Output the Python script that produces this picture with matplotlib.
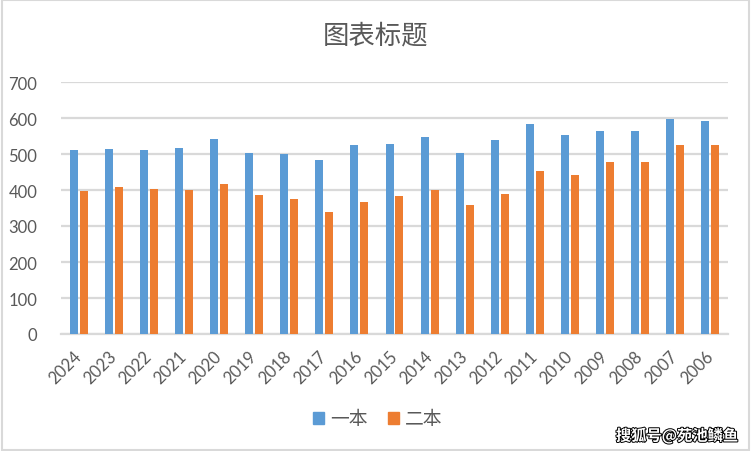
import numpy as np
import matplotlib
matplotlib.use("Agg")
import matplotlib.pyplot as plt
from matplotlib.patches import Patch, Rectangle
import matplotlib.patheffects as pe

years = ["2024", "2023", "2022", "2021", "2020", "2019", "2018", "2017", "2016", "2015",
         "2014", "2013", "2012", "2011", "2010", "2009", "2008", "2007", "2006"]
yiben = [510, 513, 510, 518, 543, 502, 499, 482, 524, 529,
         546, 504, 540, 582, 552, 565, 563, 596, 591]
erben = [396, 407, 404, 399, 418, 385, 374, 340, 368, 382,
         399, 357, 390, 454, 443, 477, 479, 524, 524]
series_names = ["一本", "二本"]
yticks = [0, 100, 200, 300, 400, 500, 600, 700]

blue = "#5B9BD5"
orange = "#ED7D31"
grid = "#D9D9D9"
text = "#595959"
cjk = ["Noto Sans CJK SC", "DejaVu Sans"]

fig = plt.figure(figsize=(7.52, 4.52), dpi=100)
ax = fig.add_axes([61 / 752, 1 - 335 / 452, (728 - 61) / 752, (335 - 83) / 452])

x = np.arange(len(years))
w = 0.228
off = 0.142
ax.bar(x - off, yiben, width=w, color=blue, zorder=3)
ax.bar(x + off, erben, width=w, color=orange, zorder=3)

ax.set_xlim(-0.5, len(years) - 0.5)
ax.set_ylim(0, 700)
ax.set_yticks(yticks)
ax.set_yticklabels([str(v) for v in yticks], fontfamily="Lato", fontsize=12, color=text)
ax.set_xticks(x)
ax.set_xticklabels(years, rotation=45, ha="right", va="center", rotation_mode="anchor",
                   fontfamily="Lato", fontsize=12, color=text)
ax.tick_params(axis="both", length=0)
ax.tick_params(axis="y", pad=17)
ax.tick_params(axis="x", pad=14)
ax.grid(axis="y", color=grid, linewidth=1.6, zorder=0)
for s in ["top", "right", "left"]:
    ax.spines[s].set_visible(False)
ax.spines["bottom"].set_color(grid)
ax.spines["bottom"].set_linewidth(1.6)

fig.text(0.5, 1 - 36 / 452, "图表标题", ha="center", va="center",
         fontfamily=cjk, fontsize=19, color=text)

handles = [Patch(color=blue, label=series_names[0]), Patch(color=orange, label=series_names[1])]
fig.legend(handles=handles, loc="center", bbox_to_anchor=(378 / 752, 1 - 420 / 452), ncol=2,
           frameon=False, prop={"family": cjk, "size": 13.5}, labelcolor=text,
           handlelength=0.55, handleheight=0.55, handletextpad=0.35, columnspacing=1.1)

fig.text(1 - 14 / 752, 1 - 437 / 452, "搜狐号@苑池鳞鱼", ha="right", va="center",
         fontfamily=cjk, fontsize=11, fontweight="bold", color="white",
         path_effects=[pe.withStroke(linewidth=1.4, foreground="black")])

fig.patches.append(Rectangle((0.002, 0.003), 0.994, 0.994, transform=fig.transFigure,
                             fill=False, edgecolor=grid, linewidth=1.5))

fig.savefig("out.png", dpi=100)
